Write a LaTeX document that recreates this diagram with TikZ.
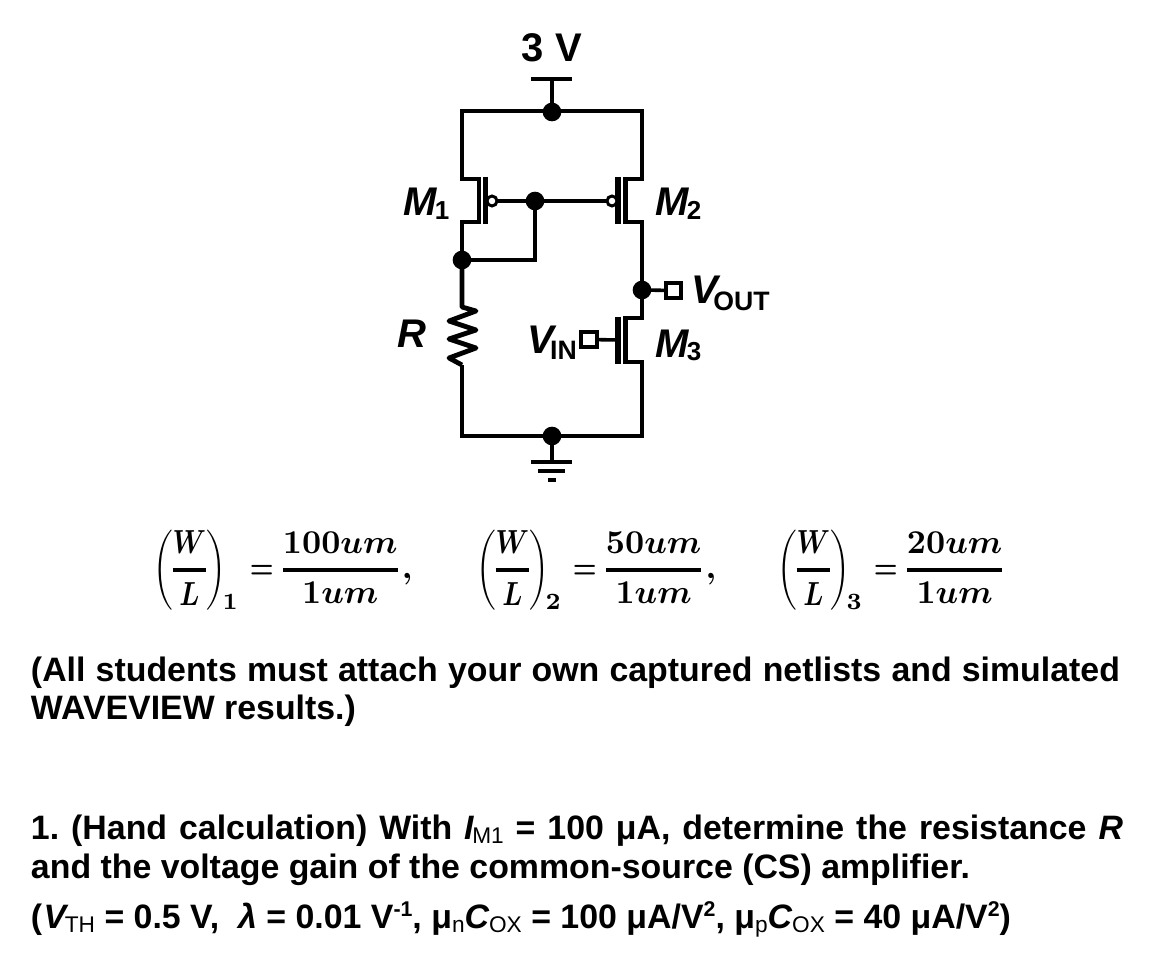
\documentclass[tikz,border=0pt]{standalone}
\usepackage{graphicx}
\usepackage{amsmath}
\usepackage[no-math]{fontspec}
\setmainfont{Liberation Sans}
\frenchspacing
\newcommand{\bt}{\fontsize{25.4}{30}\selectfont\bfseries}
\newcommand{\sbt}[1]{\raisebox{-3.2pt}{\fontsize{17}{20}\selectfont\mdseries\upshape #1}}
\newcommand{\supt}[1]{\raisebox{9pt}{\fontsize{16}{20}\selectfont\bfseries\upshape #1}}
\newcommand{\lb}{\fontsize{30}{36}\selectfont\bfseries\itshape}
\newcommand{\sbm}[1]{\raisebox{-2.6pt}{\fontsize{19.5}{24}\selectfont\bfseries\upshape #1}}
\newcommand{\sbv}[1]{\raisebox{-4.6pt}{\fontsize{20}{24}\selectfont\bfseries\upshape #1}}
\newcommand{\fr}[2]{\genfrac{}{}{1.1pt}{}{#1}{#2}}
\newcommand{\ratio}[2]{\scalebox{.8}[1]{\boldmath$\displaystyle\left(\fr{W}{L}\right)$}\kern-0.9pt\raisebox{-9.3pt}{\boldmath$\scriptstyle\mathbf{#1}$}\kern3.6pt\scalebox{.8}[1]{\boldmath$=$}\kern2.8pt\boldmath$\displaystyle #2$}
\tikzset{
  wire/.style={line width=3.4pt,line join=miter,line cap=butt},
  zigzag/.style={line width=3.6pt,line join=round,line cap=butt},
  thin wire/.style={line width=2.7pt},
  gatebar/.style={line width=4.2pt},
  dot/.style={circle,fill=black,draw=none,minimum size=14pt,inner sep=0pt},
  bubble/.style={circle,fill=white,draw=black,line width=2.2pt,minimum size=7.5pt,inner sep=0pt},
  pin/.style={rectangle,fill=white,draw=black,line width=3pt,minimum size=11.5pt,inner sep=0pt},
  txt/.style={anchor=base west,inner sep=0pt,outer sep=0pt},
}
\begin{document}
\begin{tikzpicture}[x=0.75pt,y=-0.75pt]
\useasboundingbox[fill=white] (0,0) rectangle (1173,980);
% coordinates
\coordinate (tl) at (462,111);
\coordinate (tr) at (642,111);
\coordinate (bl) at (462,436);
\coordinate (br) at (642,436);
\coordinate (vb1) at (531,79);
\coordinate (vb2) at (572,79);
\coordinate (vs) at (552,79);
\coordinate (g1a) at (552,462);
\coordinate (g1l) at (531,462);
\coordinate (g1r) at (572,462);
\coordinate (g2l) at (538,471);
\coordinate (g2r) at (565,471);
\coordinate (g3l) at (548,480);
\coordinate (g3r) at (556,480);
\coordinate (d1t) at (462,179);
\coordinate (c1t) at (479,179);
\coordinate (c1b) at (479,222);
\coordinate (d1b) at (462,222);
\coordinate (b1t) at (485.5,177);
\coordinate (b1b) at (485.5,224);
\coordinate (d2t) at (642,179);
\coordinate (c2t) at (625.5,179);
\coordinate (c2b) at (625.5,222);
\coordinate (d2b) at (642,222);
\coordinate (b2t) at (618,177);
\coordinate (b2b) at (618,224);
\coordinate (d3t) at (642,318);
\coordinate (c3t) at (625.5,318);
\coordinate (c3b) at (625.5,362);
\coordinate (d3b) at (642,362);
\coordinate (b3t) at (618,317);
\coordinate (b3b) at (618,364);
\coordinate (g3) at (618,340);
\coordinate (jc) at (535,260);
\coordinate (rt) at (462,307);
\coordinate (rb) at (462,365);
% junction positions
\coordinate (jtopc) at (552,112);
\coordinate (jgatec) at (535,201);
\coordinate (jm1c) at (462,260);
\coordinate (joutc) at (642,290);
\coordinate (jgndc) at (552,436);
\coordinate (bub1c) at (492,201);
\coordinate (bub2c) at (612,201);
\coordinate (poutc) at (673.5,290.5);
\coordinate (pin3c) at (589,339.5);
% wires
\draw[wire] (vb1) -- (vb2);
\draw[wire] (vs) -- (jtopc);
\draw[wire] (jm1c) -- (d1b) -- (c1b) -- (c1t) -- (d1t) -- (tl) -- (tr) -- (d2t) -- (c2t) -- (c2b) -- (d2b) -- (joutc) -- (d3t) -- (c3t) -- (c3b) -- (d3b) -- (br) -- (bl) -- (rb);
\draw[gatebar] (b1t) -- (b1b);
\draw[gatebar] (b2t) -- (b2b);
\draw[gatebar] (b3t) -- (b3b);
\draw[thin wire] (bub1c) -- (jgatec) -- (bub2c);
\draw[wire] (jgatec) -- (jc) -- (jm1c);
\draw[zigzag] (jm1c) -- (rt) -- (476,311) -- (449,321) -- (476,330) -- (449,339) -- (476,348) -- (449,358) -- (rb);
\draw[thin wire] (joutc) -- (poutc);
\draw[thin wire] (pin3c) -- (g3);
\draw[wire] (jgndc) -- (g1a);
\draw[wire] (g1l) -- (g1r);
\draw[wire] (g2l) -- (g2r);
\draw[wire] (g3l) -- (g3r);
% nodes on top
\node[dot] (jtop) at (jtopc) {};
\node[dot] (jgate) at (jgatec) {};
\node[dot] (jm1) at (jm1c) {};
\node[dot] (jout) at (joutc) {};
\node[dot] (jgnd) at (jgndc) {};
\node[bubble] (bub1) at (bub1c) {};
\node[bubble] (bub2) at (bub2c) {};
\node[pin] (pout) at (poutc) {};
\node[pin] (pin3) at (pin3c) {};
% labels
\node[txt] (tv) at (521,62) {\lb\upshape 3\kern1pt\ V};
\node[txt] (tm1) at (403,216) {\lb M\kern-1pt\sbm{1}};
\node[txt] (tm2) at (655,216) {\lb M\kern-1pt\sbm{2}};
\node[txt] (tm3) at (655,357) {\lb M\kern-1pt\sbm{3}};
\node[txt] (tr1) at (397,347) {\lb R};
\node[txt] (tout) at (691,304) {\lb V\kern-3.2pt\sbv{OUT}};
\node[txt] (tin) at (527,353) {\lb V\kern-2.6pt\sbv{IN}};
% equations
\begingroup
\nulldelimiterspace=0pt
\node[txt] (e1) at (153,578) {\scalebox{2.5}{\ratio{1}{\fr{\mathbf{100}um}{\mathbf{1}um}\mkern2mu,}}};
\node[txt] (e2) at (476,578) {\scalebox{2.5}{\ratio{2}{\fr{\mathbf{50}um}{\mathbf{1}um}\mkern2mu,}}};
\node[txt] (e3) at (777,578) {\scalebox{2.5}{\ratio{3}{\fr{\mathbf{20}um}{\mathbf{1}um}}}};
\endgroup
% body text
\node[txt] (p1) at (31,681) {\bt\hbox to 816.75pt{(All students must attach your own captured netlists and simulated}};
\node[txt] (p2) at (31,719) {\bt WAVEVIEW results.)};
\node[txt] (q1) at (31,839) {\bt\hbox to 819pt{1. (Hand calculation) With {\itshape I}\kern-1pt\sbt{M1} = 100 μA, determine the resistance {\itshape R}}};
\node[txt] (q2) at (31,878) {\bt and the voltage gain of the common-source (CS) amplifier.};
\node[txt] (q3) at (31,928) {\bt\hbox to 735pt{(\kern1pt{\itshape V}\kern-1pt\sbt{TH} = 0.5 V,\ \ {\itshape λ} = 0.01 V\supt{-1}, μ\sbt{n}{\itshape C}\sbt{OX} = 100 μA/V\supt{2}, μ\sbt{p}{\itshape C}\sbt{OX} = 40 μA/V\supt{2})}};
\end{tikzpicture}
\end{document}
